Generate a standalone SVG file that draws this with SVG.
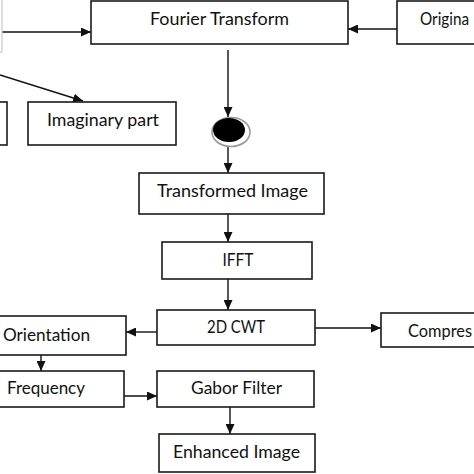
<svg xmlns="http://www.w3.org/2000/svg" width="474" height="474" viewBox="0 0 474 474">
<style>
  .box { fill: #ffffff; stroke: #1a1a1a; stroke-width: 1.6; }
  .faint { fill: #ffffff; stroke: #c8c8c8; stroke-width: 1.2; }
  .lbl { font-family: Lato, "Liberation Sans", sans-serif; font-size: 17px; fill: #111111; }
  .c { text-anchor: middle; }
  .edge { stroke: #111111; stroke-width: 1.4; fill: none; marker-end: url(#arrow); }
</style>
<defs>
  <marker id="arrow" markerUnits="userSpaceOnUse" markerWidth="10" markerHeight="9" refX="10" refY="4.5" orient="auto">
    <path d="M0,0 L10,4.5 L0,9 Z" fill="#111111"/>
  </marker>
</defs>
<rect x="0" y="0" width="474" height="474" fill="#ffffff"/>

<g id="connectors">
  <path class="edge" d="M397,29 L348,29"/>
  <path class="edge" d="M0,32 L91,32"/>
  <path class="edge" d="M0,75 L83,101"/>
  <path class="edge" d="M228,50 L228,117"/>
  <path class="edge" d="M228,142 L228,173"/>
  <path class="edge" d="M228,214 L228,242"/>
  <path class="edge" d="M228,279 L228,310"/>
  <path class="edge" d="M157,332 L126,332"/>
  <path class="edge" d="M41,355 L41,371"/>
  <path class="edge" d="M124,396 L157,396"/>
  <path class="edge" d="M230,407 L230,434"/>
  <path class="edge" d="M315,328 L381,328"/>
</g>

<g id="input-left">
  <rect class="faint" x="-20" y="-2" width="22" height="54"/>
</g>

<g id="fourier">
  <rect class="box" x="91" y="1" width="257" height="43"/>
  <text class="lbl c" x="219.5" y="25" textLength="139" lengthAdjust="spacingAndGlyphs">Fourier Transform</text>
</g>

<g id="original">
  <rect class="box" x="397" y="1" width="90" height="43"/>
  <text class="lbl" x="420" y="25" textLength="49" lengthAdjust="spacingAndGlyphs">Origina</text>
</g>

<g id="real">
  <rect class="box" x="-20" y="102" width="27" height="43"/>
</g>

<g id="imaginary">
  <rect class="box" x="28" y="102" width="148" height="43"/>
  <text class="lbl c" x="103" y="126" textLength="112" lengthAdjust="spacingAndGlyphs">Imaginary part</text>
</g>

<g id="junction">
  <ellipse cx="231" cy="132" rx="19" ry="14.5" fill="#ffffff" stroke="#9a9a9a" stroke-width="1.6"/>
  <ellipse cx="229" cy="130" rx="16" ry="12" fill="#000000"/>
</g>

<g id="transformed">
  <rect class="box" x="139" y="173" width="185" height="41"/>
  <text class="lbl c" x="232.5" y="197" textLength="151" lengthAdjust="spacingAndGlyphs">Transformed Image</text>
</g>

<g id="ifft">
  <rect class="box" x="162" y="242" width="150" height="37"/>
  <text class="lbl c" x="238" y="266" textLength="31" lengthAdjust="spacingAndGlyphs">IFFT</text>
</g>

<g id="cwt">
  <rect class="box" x="157" y="310" width="158" height="35"/>
  <text class="lbl c" x="236" y="333" textLength="58" lengthAdjust="spacingAndGlyphs">2D CWT</text>
</g>

<g id="compression">
  <rect class="box" x="381" y="313" width="110" height="34"/>
  <text class="lbl" x="408" y="337" textLength="64" lengthAdjust="spacingAndGlyphs">Compres</text>
</g>

<g id="orientation">
  <rect class="box" x="-20" y="316" width="146" height="39"/>
  <text class="lbl" x="3" y="341" textLength="87" lengthAdjust="spacingAndGlyphs">Orientation</text>
</g>

<g id="frequency">
  <rect class="box" x="-20" y="371" width="144" height="36"/>
  <text class="lbl" x="7" y="394" textLength="78" lengthAdjust="spacingAndGlyphs">Frequency</text>
</g>

<g id="gabor">
  <rect class="box" x="157" y="371" width="157" height="36"/>
  <text class="lbl c" x="236.5" y="394" textLength="91" lengthAdjust="spacingAndGlyphs">Gabor Filter</text>
</g>

<g id="enhanced">
  <rect class="box" x="159" y="434" width="156" height="38"/>
  <text class="lbl c" x="236.5" y="458" textLength="127" lengthAdjust="spacingAndGlyphs">Enhanced Image</text>
</g>
</svg>
